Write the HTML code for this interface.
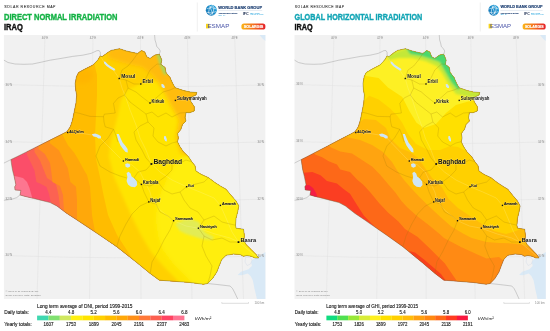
<!DOCTYPE html>
<html lang="en"><head><meta charset="utf-8"><title>Solar resource maps of Iraq</title>
<style>
html,body{margin:0;padding:0;background:#fff;}
body{width:550px;height:331px;overflow:hidden;}
svg{display:block;font-family:"Liberation Sans",sans-serif;}
</style></head><body>
<svg width="550" height="331" viewBox="0 0 550 331">
<rect width="550" height="331" fill="#fff"/>
<defs>
<clipPath id="iraq"><polygon points="100.3,55.9 102.0,56.7 107.8,52.5 111.2,50.4 119.5,48.7 126.2,50.9 132.9,52.5 137.7,53.4 141.5,50.6 144.8,52.0 146.7,56.7 150.0,58.4 155.0,55.0 159.3,54.2 161.8,60.0 160.9,64.3 165.1,67.6 166.0,72.6 170.1,77.6 172.7,83.5 175.2,87.7 183.5,90.5 190.1,92.0 196.8,92.5 196.0,95.0 190.1,97.5 191.0,101.7 194.3,106.7 194.3,110.9 190.1,112.6 186.0,112.6 185.1,117.6 186.0,121.0 182.6,124.3 180.9,129.3 177.6,133.5 178.4,138.0 177.5,141.7 180.0,146.7 183.4,151.7 188.4,156.7 191.8,161.8 195.1,165.9 195.9,171.0 201.0,174.3 208.5,177.7 215.2,182.7 221.9,186.9 226.0,189.2 230.1,194.2 236.0,200.9 238.8,205.9 237.7,211.8 236.0,218.5 235.5,225.2 236.0,228.2 243.5,229.2 244.4,235.4 243.9,240.4 246.0,244.6 251.1,249.6 256.1,254.6 258.6,258.0 255.2,258.0 251.1,256.3 246.9,255.5 243.5,256.3 240.2,254.6 233.5,254.1 226.0,255.3 221.8,259.4 219.3,265.5 216.8,272.0 212.6,278.4 207.6,283.5 203.4,284.3 190.0,282.5 159.4,280.2 150.2,273.5 136.8,262.6 116.7,246.7 100.0,235.3 77.0,220.0 66.9,213.5 56.9,206.0 50.2,202.6 43.5,200.9 33.5,198.4 25.0,196.4 20.0,195.0 20.9,190.4 15.0,190.0 14.7,186.7 15.9,185.0 14.2,176.7 12.5,170.0 11.7,165.2 10.9,159.6 16.7,156.8 33.5,148.4 50.2,140.1 66.9,131.7 70.3,126.7 72.5,120.0 74.2,111.7 75.9,103.4 76.7,95.0 75.7,90.2 75.2,83.5 76.4,76.8 78.5,72.6 84.4,69.3 92.8,65.1 97.8,60.0"/></clipPath>
<clipPath id="frame"><rect x="3.7" y="35.0" width="261.90000000000003" height="264.0"/></clipPath>
<filter id="bl1" x="-20%" y="-20%" width="140%" height="140%"><feGaussianBlur stdDeviation="1"/></filter>
<filter id="bl2" x="-20%" y="-20%" width="140%" height="140%"><feGaussianBlur stdDeviation="2.2"/></filter>
<filter id="bl15" x="-10%" y="-10%" width="120%" height="120%"><feGaussianBlur stdDeviation="1.6"/></filter>
<filter id="bl05" x="-5%" y="-5%" width="110%" height="110%"><feGaussianBlur stdDeviation="0.4"/></filter>
<linearGradient id="gl" x1="0" y1="1" x2="1" y2="0"><stop offset="0" stop-color="#0b6cae"/><stop offset="1" stop-color="#2cabe3"/></linearGradient>
<linearGradient id="sg" x1="0" y1="0" x2="1" y2="0"><stop offset="0" stop-color="#fbb515"/><stop offset="0.5" stop-color="#f4701f"/><stop offset="1" stop-color="#e4202a"/></linearGradient>
</defs>
<g transform="translate(0,0)">
<text x="4.2" y="8.2" font-size="3.6" fill="#333" stroke="#333" stroke-width="0.08" textLength="51.3" lengthAdjust="spacing">SOLAR RESOURCE MAP</text>
<text x="4" y="19.6" font-size="9.4" font-weight="bold" fill="#14b245" stroke="#14b245" stroke-width="0.4" textLength="113.5" lengthAdjust="spacingAndGlyphs">DIRECT NORMAL IRRADIATION</text>
<text x="4" y="30.4" font-size="8.6" font-weight="bold" fill="#111" stroke="#111" stroke-width="0.4" textLength="18.8" lengthAdjust="spacingAndGlyphs">IRAQ</text>
<line x1="197.3" y1="2.5" x2="197.3" y2="31.5" stroke="#d8d8d8" stroke-width="0.4"/>
<circle cx="211.3" cy="10.2" r="5.5" fill="url(#gl)"/>
<g fill="none" stroke="#fff" stroke-width="0.55"><ellipse cx="211.3" cy="10.2" rx="2.3" ry="4.6" transform="rotate(18 211.3 10.2)"/><path d="M206.6,8.8 Q211.3,6.2 216,8.8 M206.4,12.2 Q211.3,14 216,11.6 M209.6,5.6 L213,14.8"/></g>
<text x="218.3" y="8.5" font-size="3.7" font-weight="bold" fill="#1d3f72" stroke="#1d3f72" stroke-width="0.15" textLength="43.8" lengthAdjust="spacingAndGlyphs">WORLD BANK GROUP</text>
<line x1="218.3" y1="10.5" x2="262.2" y2="10.5" stroke="#9fb2cc" stroke-width="0.25"/>
<text x="218.4" y="13.6" font-size="2" font-weight="bold" fill="#1d3f72" stroke="#1d3f72" stroke-width="0.1" textLength="19" lengthAdjust="spacingAndGlyphs">THE WORLD BANK</text>
<text x="218.4" y="15.5" font-size="1.5" fill="#1a9bd7" textLength="7" lengthAdjust="spacingAndGlyphs">IBRD · IDA</text>
<text x="242.8" y="15" font-size="3.6" font-weight="bold" fill="#1d2f52" textLength="6" lengthAdjust="spacingAndGlyphs">IFC</text>
<text x="250.2" y="14" font-size="1.9" font-weight="bold" fill="#2aa7df" textLength="9.5" lengthAdjust="spacingAndGlyphs">MIGA ICSID</text>
<text x="250.2" y="15.4" font-size="1.3" fill="#2aa7df" textLength="13.5" lengthAdjust="spacingAndGlyphs">WORLD BANK GROUP</text>
<rect x="206" y="23.8" width="3.5" height="4.6" fill="#f4d21f"/>

<text x="207.4" y="28.3" font-size="5.6" fill="#4a55a8" textLength="22" lengthAdjust="spacingAndGlyphs">ESMAP</text>
<rect x="241.4" y="23.4" width="24" height="6.1" rx="2.6" fill="url(#sg)"/>
<text x="243.8" y="28" font-size="3.9" font-weight="bold" fill="#fff" stroke="#fff" stroke-width="0.15" textLength="19.4" lengthAdjust="spacingAndGlyphs">SOLARGIS</text>
<g clip-path="url(#frame)">
<rect x="3.7" y="35.0" width="261.90000000000003" height="264.0" fill="#f1f1f1"/>
<polygon points="258.6,258.0 255.2,258.3 252.5,259.5 251.0,261.7 251.9,265.9 248.5,269.2 241.0,271.7 237.7,275.0 241.9,275.3 247.7,273.4 250.5,276.0 252.7,280.1 253.8,285.0 254.4,288.5 255.5,293.0 256.9,299.0 265.6,299.0 265.6,252.0 262.0,254.0 260.0,256.5" fill="#d9e9f6"/>
<polygon points="259.5,35.0 265.6,35.0 265.6,41.0 263.0,39.0" fill="#d9e9f6"/>
<polygon points="245.5,257.5 250.0,257.3 252.0,260.0 250.5,264.0 247.0,265.5 245.0,262.0" fill="#f1f1f1" stroke="#c5cfe0" stroke-width="0.3"/>
<g stroke="#dadada" stroke-width="0.35" fill="none"><line x1="45" y1="35.0" x2="37" y2="299.0"/><line x1="93" y1="35.0" x2="89.5" y2="299.0"/><line x1="140.5" y1="35.0" x2="141" y2="299.0"/><line x1="187.4" y1="35.0" x2="192" y2="299.0"/><line x1="234.6" y1="35.0" x2="243.5" y2="299.0"/><path d="M3.7,84.6 Q134.5,88.6 265.6,85.0"/><path d="M3.7,141.6 Q134.5,145.6 265.6,142.0"/><path d="M3.7,198.8 Q134.5,202.8 265.6,199.20000000000002"/><path d="M3.7,255.5 Q134.5,260.1 265.6,255.9"/></g>
<polyline points="3.7,60.0 8.0,62.5 15.0,64.0 24.0,64.3 32.6,64.0 42.0,62.0 50.0,60.2 60.0,58.6 72.7,56.4 82.7,55.2 91.0,53.4 95.0,51.6 97.0,50.6 99.2,50.6 100.3,52.5 100.3,55.9" fill="none" stroke="#9a9a9a" stroke-width="0.45"/>
<polyline points="159.3,54.2 160.3,51.0 158.8,48.5 156.8,46.7 156.0,43.0 155.0,40.0 154.6,35.0" fill="none" stroke="#9a9a9a" stroke-width="0.45"/>
<polyline points="10.9,159.6 3.7,163.2" fill="none" stroke="#9a9a9a" stroke-width="0.45"/>
<polyline points="20.0,195.0 16.7,197.6 11.7,199.3 3.7,200.3" fill="none" stroke="#9a9a9a" stroke-width="0.45"/>
<polyline points="207.6,283.5 218.0,284.6 230.1,286.0 232.5,288.5 234.3,291.8 237.7,299.0" fill="none" stroke="#9a9a9a" stroke-width="0.45"/>
<g clip-path="url(#iraq)">
<rect x="0" y="30" width="270" height="275" fill="#fb4e69"/>
<polygon points="8.0,175.0 17.0,176.5 23.0,178.0 27.0,182.0 29.5,188.0 31.6,195.5 33.0,201.0 8.0,201.0" fill="#fd7690"/>
<polygon points="27.0,140.0 27.0,155.0 31.0,162.9 34.5,170.5 36.4,181.9 41.0,184.0 46.5,187.0 49.0,194.0 51.0,203.0 52.0,215.0 52.0,400.0 300.0,400.0 300.0,-20.0 27.0,-20.0" fill="#fc6252" />
<polygon points="34.5,135.0 34.5,152.0 40.0,160.4 43.5,169.3 47.0,178.0 56.0,184.0 58.5,195.0 60.0,207.0 61.0,220.0 61.0,400.0 300.0,400.0 300.0,-20.0 34.5,-20.0" fill="#fe7a38" />
<polygon points="38.5,130.0 38.5,148.9 44.9,154.0 50.0,162.9 51.3,171.8 52.5,181.9 60.0,186.0 63.0,195.0 64.0,212.0 66.0,225.0 66.0,400.0 300.0,400.0 300.0,-20.0 38.5,-20.0" fill="#ff921a" />
<polygon points="50.0,125.0 50.0,143.2 58.9,150.2 64.0,160.4 67.8,168.0 70.4,181.9 76.0,186.7 77.0,200.0 77.0,220.0 80.0,235.0 80.0,400.0 300.0,400.0 300.0,-20.0 50.0,-20.0" fill="#ffa80a" />
<polygon points="62.0,120.0 62.0,134.0 67.8,145.0 74.2,152.7 78.0,159.0 84.0,170.0 87.0,175.0 90.0,186.7 91.0,200.0 92.0,215.0 95.0,232.0 100.0,250.0 100.0,400.0 300.0,400.0 300.0,-20.0 62.0,-20.0" fill="#ffbc00" />
<polygon points="60.0,40.0 84.0,52.0 94.0,62.0 97.0,75.0 97.0,95.0 96.0,115.0 95.0,135.0 96.0,159.0 100.0,177.3 103.5,195.0 108.0,215.0 117.0,235.0 130.0,255.0 141.0,272.0 152.0,290.0 152.0,400.0 300.0,400.0 300.0,-20.0 60.0,-20.0" fill="#ffd000" />
<polygon points="300.0,80.0 160.0,80.0 140.0,84.0 127.0,90.0 121.0,100.0 118.0,115.0 114.0,130.0 110.0,145.0 109.0,157.0 114.0,177.0 122.0,195.0 131.0,215.0 141.0,235.0 151.0,252.0 165.0,268.0 177.0,280.0 190.0,300.0 190.0,400.0 300.0,400.0 300.0,-20.0 300.0,-20.0" fill="#ffe400" filter="url(#bl15)"/>
<g filter="url(#bl2)">
<polygon points="300.0,152.0 192.0,152.0 178.0,160.0 169.0,175.0 162.0,190.0 157.0,205.0 156.0,220.0 158.0,235.0 163.0,250.0 172.0,262.0 185.0,275.0 200.0,292.0 200.0,400.0 300.0,400.0 300.0,-20.0 300.0,-20.0" fill="#fff010" opacity="0.9"/>
</g>
<g filter="url(#bl2)">
<polygon points="108.0,46.0 165.0,48.0 178.0,85.0 202.0,90.0 200.0,112.0 190.0,125.0 184.0,140.0 190.0,156.0 181.0,153.0 176.0,138.0 179.0,120.0 170.0,104.0 163.0,90.0 154.0,76.0 142.0,67.0 124.0,63.0 108.0,58.0" fill="#ffb810" opacity="0.9"/>
<polygon points="76.0,72.0 88.0,68.0 94.0,74.0 90.0,82.0 80.0,84.0 74.0,80.0" fill="#ffb000" opacity="0.6"/>
</g>
<g filter="url(#bl1)">
<polygon points="156.0,53.0 161.0,54.0 164.0,64.0 167.0,74.0 164.0,75.0 160.0,66.0" fill="#8ee070" opacity="0.7"/>
<polygon points="175.0,224.0 184.0,220.0 192.0,219.5 199.0,222.0 201.0,228.0 206.0,233.0 214.0,237.0 212.0,240.0 202.0,239.0 194.0,236.5 186.0,234.0 180.0,231.0" fill="#e2ec54"/>
</g>
<polyline points="67.7,132.5 80.0,133.0 92.0,135.0 100.0,138.0 104.0,142.0 112.0,150.0 120.0,158.0 123.4,161.0 132.0,165.0 140.0,172.0 145.0,182.0 150.0,192.0 152.0,200.0 160.0,210.0 173.6,220.7 186.0,226.0 198.4,228.2 215.0,234.0 230.0,238.0 238.5,242.0 246.0,248.0 256.0,256.0" fill="none" stroke="#fff8c0" stroke-opacity="0.45" stroke-width="0.45"/>
<polyline points="100.3,55.9 104.0,62.0 112.0,68.0 119.2,78.5 122.0,88.0 126.0,98.0 130.0,110.0 136.0,125.0 140.0,138.0 146.0,150.0 151.4,164.0 160.0,172.0 172.0,180.0 186.6,186.7 200.0,192.0 214.0,198.0 220.4,205.4 226.0,218.0 232.0,232.0 238.5,242.0" fill="none" stroke="#fff8c0" stroke-opacity="0.45" stroke-width="0.45"/>
<polygon points="103.8,61.5 105.4,61.8 108.0,64.5 111.5,66.8 114.8,68.8 115.4,70.3 113.5,70.4 110.0,68.5 106.5,66.0 104.2,63.6" fill="#cfe6f6"/>
<polygon points="91.8,134.2 95.0,133.5 98.0,134.5 100.8,136.0 101.0,138.2 98.5,138.6 96.5,137.0 93.5,136.6" fill="#cfe6f6"/>
<polygon points="116.6,134.0 118.8,134.0 120.5,138.0 122.6,142.4 125.5,146.0 127.6,149.0 127.8,152.4 125.6,152.0 123.0,149.0 120.5,145.5 118.3,140.5" fill="#cfe6f6"/>
<polygon points="125.2,164.0 127.5,163.2 130.0,164.4 130.2,166.6 127.8,167.8 125.6,166.8" fill="#cfe6f6"/>
<polygon points="126.6,173.0 128.6,171.8 130.6,173.5 131.6,176.5 134.5,178.5 136.8,181.5 137.2,185.0 135.0,187.2 131.0,186.8 128.0,184.6 126.6,181.0 127.4,177.0" fill="#cfe6f6"/>
<polygon points="161.2,84.2 163.0,84.0 164.6,86.0 164.8,88.0 163.0,88.0 161.6,86.2" fill="#cfe6f6"/>
<polygon points="164.0,136.2 165.6,136.0 166.8,139.0 166.8,141.6 165.2,141.0 164.0,138.6" fill="#cfe6f6"/>
<polyline points="72.5,111.7 80.0,113.5 90.0,116.4 103.5,116.7 104.3,114.2 115.2,113.0 113.5,103.4 118.0,98.0 124.4,95.0 128.0,88.0 126.0,80.0 119.2,78.5" fill="none" stroke="#9a7a08" stroke-opacity="0.6" stroke-width="0.4"/>
<polyline points="103.5,116.7 104.0,122.0 105.2,126.8 113.5,129.3 115.2,133.5 118.0,142.0" fill="none" stroke="#9a7a08" stroke-opacity="0.6" stroke-width="0.4"/>
<polyline points="119.2,78.5 122.0,70.0 128.0,66.0 133.0,60.0 137.7,53.4" fill="none" stroke="#9a7a08" stroke-opacity="0.6" stroke-width="0.4"/>
<polyline points="126.0,80.0 134.0,84.0 140.8,84.0 146.0,78.0 150.0,70.0 157.0,64.0 160.9,64.3" fill="none" stroke="#9a7a08" stroke-opacity="0.6" stroke-width="0.4"/>
<polyline points="128.0,88.0 136.0,92.0 142.0,97.0 150.0,103.0 156.0,98.0 163.0,92.0 170.0,90.0 175.2,87.7" fill="none" stroke="#9a7a08" stroke-opacity="0.6" stroke-width="0.4"/>
<polyline points="124.4,95.0 130.0,102.0 138.0,108.0 146.0,114.0 152.0,112.0 158.0,117.0 166.0,113.0 172.0,117.0 180.0,113.0 186.0,112.6" fill="none" stroke="#9a7a08" stroke-opacity="0.6" stroke-width="0.4"/>
<polyline points="146.0,114.0 148.0,122.0 154.0,128.0 153.0,136.0 158.0,142.0 166.0,146.0 172.0,143.0 177.5,141.7" fill="none" stroke="#9a7a08" stroke-opacity="0.6" stroke-width="0.4"/>
<polyline points="148.0,122.0 140.0,126.0 134.0,132.0 136.0,140.0 142.0,150.0 146.0,158.0 151.4,164.0" fill="none" stroke="#9a7a08" stroke-opacity="0.6" stroke-width="0.4"/>
<polyline points="151.4,164.0 158.0,160.0 166.0,164.0 172.0,160.0 178.0,164.0 186.0,160.0 191.8,161.8" fill="none" stroke="#9a7a08" stroke-opacity="0.6" stroke-width="0.4"/>
<polyline points="151.4,164.0 146.0,170.0 138.0,172.0 134.0,178.0 141.4,184.4" fill="none" stroke="#9a7a08" stroke-opacity="0.6" stroke-width="0.4"/>
<polyline points="141.4,184.4 150.0,186.0 158.0,182.0 166.0,176.0 172.0,170.0 172.0,160.0" fill="none" stroke="#9a7a08" stroke-opacity="0.6" stroke-width="0.4"/>
<polyline points="141.4,184.4 144.0,192.0 148.8,201.9 140.0,206.0 132.0,214.0 126.0,224.0 120.0,236.0 116.7,246.7" fill="none" stroke="#9a7a08" stroke-opacity="0.6" stroke-width="0.4"/>
<polyline points="148.8,201.9 156.0,204.0 160.0,212.0 168.0,216.0 173.6,220.7 170.0,230.0 164.0,240.0 158.0,252.0 152.0,262.0 150.2,273.5" fill="none" stroke="#9a7a08" stroke-opacity="0.6" stroke-width="0.4"/>
<polyline points="158.0,182.0 164.0,190.0 172.0,194.0 180.0,192.0 186.6,186.7 196.0,184.0 204.0,182.0 208.5,177.7" fill="none" stroke="#9a7a08" stroke-opacity="0.6" stroke-width="0.4"/>
<polyline points="180.0,192.0 184.0,200.0 190.0,208.0 198.0,212.0 204.0,220.0 198.4,228.2" fill="none" stroke="#9a7a08" stroke-opacity="0.6" stroke-width="0.4"/>
<polyline points="204.0,220.0 214.0,216.0 222.0,222.0 230.0,224.0 235.5,225.2" fill="none" stroke="#9a7a08" stroke-opacity="0.6" stroke-width="0.4"/>
<polyline points="198.4,228.2 204.0,236.0 212.0,240.0 222.0,238.0 230.0,242.0 238.5,242.1" fill="none" stroke="#9a7a08" stroke-opacity="0.6" stroke-width="0.4"/>
<polyline points="204.0,236.0 202.0,246.0 206.0,256.0 212.0,266.0 210.0,276.0 207.6,283.5" fill="none" stroke="#9a7a08" stroke-opacity="0.6" stroke-width="0.4"/>
<polyline points="113.5,129.3 108.0,138.0 100.0,146.0 96.0,156.0 100.0,166.0 110.0,172.0 120.0,176.0 126.8,178.0" fill="none" stroke="#9a7a08" stroke-opacity="0.6" stroke-width="0.4"/>
</g>
<polygon points="100.3,55.9 102.0,56.7 107.8,52.5 111.2,50.4 119.5,48.7 126.2,50.9 132.9,52.5 137.7,53.4 141.5,50.6 144.8,52.0 146.7,56.7 150.0,58.4 155.0,55.0 159.3,54.2 161.8,60.0 160.9,64.3 165.1,67.6 166.0,72.6 170.1,77.6 172.7,83.5 175.2,87.7 183.5,90.5 190.1,92.0 196.8,92.5 196.0,95.0 190.1,97.5 191.0,101.7 194.3,106.7 194.3,110.9 190.1,112.6 186.0,112.6 185.1,117.6 186.0,121.0 182.6,124.3 180.9,129.3 177.6,133.5 178.4,138.0 177.5,141.7 180.0,146.7 183.4,151.7 188.4,156.7 191.8,161.8 195.1,165.9 195.9,171.0 201.0,174.3 208.5,177.7 215.2,182.7 221.9,186.9 226.0,189.2 230.1,194.2 236.0,200.9 238.8,205.9 237.7,211.8 236.0,218.5 235.5,225.2 236.0,228.2 243.5,229.2 244.4,235.4 243.9,240.4 246.0,244.6 251.1,249.6 256.1,254.6 258.6,258.0 255.2,258.0 251.1,256.3 246.9,255.5 243.5,256.3 240.2,254.6 233.5,254.1 226.0,255.3 221.8,259.4 219.3,265.5 216.8,272.0 212.6,278.4 207.6,283.5 203.4,284.3 190.0,282.5 159.4,280.2 150.2,273.5 136.8,262.6 116.7,246.7 100.0,235.3 77.0,220.0 66.9,213.5 56.9,206.0 50.2,202.6 43.5,200.9 33.5,198.4 25.0,196.4 20.0,195.0 20.9,190.4 15.0,190.0 14.7,186.7 15.9,185.0 14.2,176.7 12.5,170.0 11.7,165.2 10.9,159.6 16.7,156.8 33.5,148.4 50.2,140.1 66.9,131.7 70.3,126.7 72.5,120.0 74.2,111.7 75.9,103.4 76.7,95.0 75.7,90.2 75.2,83.5 76.4,76.8 78.5,72.6 84.4,69.3 92.8,65.1 97.8,60.0" fill="none" stroke="#6f6a40" stroke-width="0.45" stroke-linejoin="round"/>
<rect x="118.5" y="77.8" width="1.4" height="1.4" fill="#111"/>
<text x="121.2" y="77.8" font-size="4.9" font-weight="bold" textLength="14.2" lengthAdjust="spacingAndGlyphs" fill="none" stroke="#fff" stroke-opacity="0.4" stroke-width="0.7">Mosul</text>
<text x="121.2" y="77.8" font-size="4.9" font-weight="bold" textLength="14.2" lengthAdjust="spacingAndGlyphs" fill="#111" stroke="#111" stroke-width="0">Mosul</text>
<rect x="140.1" y="83.3" width="1.4" height="1.4" fill="#111"/>
<text x="142.4" y="83.3" font-size="4.9" font-weight="bold" textLength="10.6" lengthAdjust="spacingAndGlyphs" fill="none" stroke="#fff" stroke-opacity="0.4" stroke-width="0.7">Erbil</text>
<text x="142.4" y="83.3" font-size="4.9" font-weight="bold" textLength="10.6" lengthAdjust="spacingAndGlyphs" fill="#111" stroke="#111" stroke-width="0">Erbil</text>
<rect x="149.3" y="102.3" width="1.4" height="1.4" fill="#111"/>
<text x="151.6" y="103.1" font-size="4.9" font-weight="bold" textLength="12.8" lengthAdjust="spacingAndGlyphs" fill="none" stroke="#fff" stroke-opacity="0.4" stroke-width="0.7">Kirkuk</text>
<text x="151.6" y="103.1" font-size="4.9" font-weight="bold" textLength="12.8" lengthAdjust="spacingAndGlyphs" fill="#111" stroke="#111" stroke-width="0">Kirkuk</text>
<rect x="174.7" y="99.7" width="1.4" height="1.4" fill="#111"/>
<text x="177" y="100.1" font-size="4.9" font-weight="bold" textLength="29.8" lengthAdjust="spacingAndGlyphs" fill="none" stroke="#fff" stroke-opacity="0.4" stroke-width="0.7">Sulaymaniyah</text>
<text x="177" y="100.1" font-size="4.9" font-weight="bold" textLength="29.8" lengthAdjust="spacingAndGlyphs" fill="#111" stroke="#111" stroke-width="0">Sulaymaniyah</text>
<rect x="67.0" y="131.8" width="1.4" height="1.4" fill="#111"/>
<text x="69.2" y="133" font-size="4.3" font-weight="normal" textLength="14.4" lengthAdjust="spacingAndGlyphs" fill="none" stroke="#fff" stroke-opacity="0.4" stroke-width="0.7">Al-Qa'im</text>
<text x="69.2" y="133" font-size="4.3" font-weight="normal" textLength="14.4" lengthAdjust="spacingAndGlyphs" fill="#111" stroke="#111" stroke-width="0.16">Al-Qa'im</text>
<rect x="122.7" y="160.3" width="1.4" height="1.4" fill="#111"/>
<text x="125" y="161.2" font-size="4.3" font-weight="normal" textLength="13.8" lengthAdjust="spacingAndGlyphs" fill="none" stroke="#fff" stroke-opacity="0.4" stroke-width="0.7">Ramadi</text>
<text x="125" y="161.2" font-size="4.3" font-weight="normal" textLength="13.8" lengthAdjust="spacingAndGlyphs" fill="#111" stroke="#111" stroke-width="0.16">Ramadi</text>
<rect x="150.5" y="163.1" width="1.8" height="1.8" fill="#111"/>
<text x="153.4" y="163.6" font-size="7.0" font-weight="bold" textLength="28.6" lengthAdjust="spacingAndGlyphs" fill="none" stroke="#fff" stroke-opacity="0.4" stroke-width="0.7">Baghdad</text>
<text x="153.4" y="163.6" font-size="7.0" font-weight="bold" textLength="28.6" lengthAdjust="spacingAndGlyphs" fill="#111" stroke="#111" stroke-width="0">Baghdad</text>
<rect x="140.7" y="183.7" width="1.4" height="1.4" fill="#111"/>
<text x="142.8" y="184.3" font-size="4.9" font-weight="bold" textLength="15.6" lengthAdjust="spacingAndGlyphs" fill="none" stroke="#fff" stroke-opacity="0.4" stroke-width="0.7">Karbala</text>
<text x="142.8" y="184.3" font-size="4.9" font-weight="bold" textLength="15.6" lengthAdjust="spacingAndGlyphs" fill="#111" stroke="#111" stroke-width="0">Karbala</text>
<rect x="185.9" y="186.0" width="1.4" height="1.4" fill="#111"/>
<text x="188" y="186.8" font-size="4.3" font-weight="normal" textLength="5.8" lengthAdjust="spacingAndGlyphs" fill="none" stroke="#fff" stroke-opacity="0.4" stroke-width="0.7">Kut</text>
<text x="188" y="186.8" font-size="4.3" font-weight="normal" textLength="5.8" lengthAdjust="spacingAndGlyphs" fill="#111" stroke="#111" stroke-width="0.16">Kut</text>
<rect x="148.1" y="201.2" width="1.4" height="1.4" fill="#111"/>
<text x="150.3" y="202.2" font-size="4.9" font-weight="bold" textLength="10" lengthAdjust="spacingAndGlyphs" fill="none" stroke="#fff" stroke-opacity="0.4" stroke-width="0.7">Najaf</text>
<text x="150.3" y="202.2" font-size="4.9" font-weight="bold" textLength="10" lengthAdjust="spacingAndGlyphs" fill="#111" stroke="#111" stroke-width="0">Najaf</text>
<rect x="172.9" y="220.0" width="1.4" height="1.4" fill="#111"/>
<text x="175.1" y="220.3" font-size="4.3" font-weight="normal" textLength="18" lengthAdjust="spacingAndGlyphs" fill="none" stroke="#fff" stroke-opacity="0.4" stroke-width="0.7">Samawah</text>
<text x="175.1" y="220.3" font-size="4.3" font-weight="normal" textLength="18" lengthAdjust="spacingAndGlyphs" fill="#111" stroke="#111" stroke-width="0.16">Samawah</text>
<rect x="219.7" y="204.7" width="1.4" height="1.4" fill="#111"/>
<text x="222" y="205.2" font-size="4.3" font-weight="normal" textLength="14" lengthAdjust="spacingAndGlyphs" fill="none" stroke="#fff" stroke-opacity="0.4" stroke-width="0.7">Amarah</text>
<text x="222" y="205.2" font-size="4.3" font-weight="normal" textLength="14" lengthAdjust="spacingAndGlyphs" fill="#111" stroke="#111" stroke-width="0.16">Amarah</text>
<rect x="197.7" y="227.5" width="1.4" height="1.4" fill="#111"/>
<text x="199.9" y="228" font-size="4.3" font-weight="normal" textLength="16.8" lengthAdjust="spacingAndGlyphs" fill="none" stroke="#fff" stroke-opacity="0.4" stroke-width="0.7">Nasiriyah</text>
<text x="199.9" y="228" font-size="4.3" font-weight="normal" textLength="16.8" lengthAdjust="spacingAndGlyphs" fill="#111" stroke="#111" stroke-width="0.16">Nasiriyah</text>
<rect x="237.6" y="241.2" width="1.8" height="1.8" fill="#111"/>
<text x="240.4" y="241.8" font-size="5.8" font-weight="bold" textLength="15.8" lengthAdjust="spacingAndGlyphs" fill="none" stroke="#fff" stroke-opacity="0.4" stroke-width="0.7">Basra</text>
<text x="240.4" y="241.8" font-size="5.8" font-weight="bold" textLength="15.8" lengthAdjust="spacingAndGlyphs" fill="#111" stroke="#111" stroke-width="0">Basra</text>
<g font-size="2.6" fill="#8a8a8a"><text x="41.8" y="38.6" textLength="6.4" lengthAdjust="spacingAndGlyphs">40°E</text><text x="89.8" y="38.6" textLength="6.4" lengthAdjust="spacingAndGlyphs">42°E</text><text x="137.3" y="38.6" textLength="6.4" lengthAdjust="spacingAndGlyphs">44°E</text><text x="184.20000000000002" y="38.6" textLength="6.4" lengthAdjust="spacingAndGlyphs">46°E</text><text x="231.4" y="38.6" textLength="6.4" lengthAdjust="spacingAndGlyphs">48°E</text><text x="5.6" y="85.5" textLength="6.6" lengthAdjust="spacingAndGlyphs">36°N</text><text x="257.4" y="85.89999999999999" textLength="6.6" lengthAdjust="spacingAndGlyphs">36°N</text><text x="5.6" y="142.5" textLength="6.6" lengthAdjust="spacingAndGlyphs">34°N</text><text x="257.4" y="142.9" textLength="6.6" lengthAdjust="spacingAndGlyphs">34°N</text><text x="5.6" y="199.70000000000002" textLength="6.6" lengthAdjust="spacingAndGlyphs">32°N</text><text x="257.4" y="200.10000000000002" textLength="6.6" lengthAdjust="spacingAndGlyphs">32°N</text><text x="5.6" y="256.4" textLength="6.6" lengthAdjust="spacingAndGlyphs">30°N</text><text x="257.4" y="256.8" textLength="6.6" lengthAdjust="spacingAndGlyphs">30°N</text></g>
</g>
<rect x="37.10" y="315.6" width="11.42" height="4.7" fill="#40d8b0"/>
<rect x="48.42" y="315.6" width="11.42" height="4.7" fill="#80e070"/>
<rect x="59.75" y="315.6" width="11.42" height="4.7" fill="#d0e860"/>
<rect x="71.07" y="315.6" width="11.42" height="4.7" fill="#fff010"/>
<rect x="82.39" y="315.6" width="11.42" height="4.7" fill="#ffe400"/>
<rect x="93.72" y="315.6" width="11.42" height="4.7" fill="#ffd000"/>
<rect x="105.04" y="315.6" width="11.42" height="4.7" fill="#ffbc00"/>
<rect x="116.36" y="315.6" width="11.42" height="4.7" fill="#ffa808"/>
<rect x="127.68" y="315.6" width="11.42" height="4.7" fill="#ff9018"/>
<rect x="139.01" y="315.6" width="11.42" height="4.7" fill="#ff7838"/>
<rect x="150.33" y="315.6" width="11.42" height="4.7" fill="#fc6050"/>
<rect x="161.65" y="315.6" width="11.42" height="4.7" fill="#ff4462"/>
<rect x="172.98" y="315.6" width="11.42" height="4.7" fill="#ff7492"/>
<text x="37" y="308.2" font-size="4.5" fill="#1a1a1a" stroke="#1a1a1a" stroke-width="0.12" textLength="95.5" lengthAdjust="spacingAndGlyphs">Long term average of DNI, period 1999-2015</text>
<text x="4.2" y="313.8" font-size="4.5" fill="#1a1a1a" stroke="#1a1a1a" stroke-width="0.12" textLength="24.8" lengthAdjust="spacingAndGlyphs">Daily totals:</text>
<text x="4.2" y="326.3" font-size="4.5" fill="#1a1a1a" stroke="#1a1a1a" stroke-width="0.12" textLength="27.6" lengthAdjust="spacingAndGlyphs">Yearly totals:</text>
<text x="48.4" y="313.8" font-size="4.5" fill="#1a1a1a" stroke="#1a1a1a" stroke-width="0.12" text-anchor="middle">4.4</text>
<text x="48.4" y="326.3" font-size="4.5" fill="#1a1a1a" stroke="#1a1a1a" stroke-width="0.12" text-anchor="middle">1607</text>
<text x="71.1" y="313.8" font-size="4.5" fill="#1a1a1a" stroke="#1a1a1a" stroke-width="0.12" text-anchor="middle">4.8</text>
<text x="71.1" y="326.3" font-size="4.5" fill="#1a1a1a" stroke="#1a1a1a" stroke-width="0.12" text-anchor="middle">1753</text>
<text x="93.7" y="313.8" font-size="4.5" fill="#1a1a1a" stroke="#1a1a1a" stroke-width="0.12" text-anchor="middle">5.2</text>
<text x="93.7" y="326.3" font-size="4.5" fill="#1a1a1a" stroke="#1a1a1a" stroke-width="0.12" text-anchor="middle">1899</text>
<text x="116.4" y="313.8" font-size="4.5" fill="#1a1a1a" stroke="#1a1a1a" stroke-width="0.12" text-anchor="middle">5.6</text>
<text x="116.4" y="326.3" font-size="4.5" fill="#1a1a1a" stroke="#1a1a1a" stroke-width="0.12" text-anchor="middle">2045</text>
<text x="139.0" y="313.8" font-size="4.5" fill="#1a1a1a" stroke="#1a1a1a" stroke-width="0.12" text-anchor="middle">6.0</text>
<text x="139.0" y="326.3" font-size="4.5" fill="#1a1a1a" stroke="#1a1a1a" stroke-width="0.12" text-anchor="middle">2191</text>
<text x="161.7" y="313.8" font-size="4.5" fill="#1a1a1a" stroke="#1a1a1a" stroke-width="0.12" text-anchor="middle">6.4</text>
<text x="161.7" y="326.3" font-size="4.5" fill="#1a1a1a" stroke="#1a1a1a" stroke-width="0.12" text-anchor="middle">2337</text>
<text x="184.3" y="313.8" font-size="4.5" fill="#1a1a1a" stroke="#1a1a1a" stroke-width="0.12" text-anchor="middle">6.8</text>
<text x="184.3" y="326.3" font-size="4.5" fill="#1a1a1a" stroke="#1a1a1a" stroke-width="0.12" text-anchor="middle">2483</text>
<text x="194.8" y="319.9" font-size="4.4" fill="#222" textLength="16.6" lengthAdjust="spacingAndGlyphs">kWh/m²</text>
<text x="5.6" y="292.3" font-size="2.2" fill="#8a8a8a" textLength="33" lengthAdjust="spacingAndGlyphs">© 2017 THE WORLD BANK</text>
<text x="5.6" y="295.6" font-size="2.2" fill="#8a8a8a" textLength="35" lengthAdjust="spacingAndGlyphs">Solar resource data: Solargis</text>
<path d="M221.8,302.2 V303.3 H248.5 V302.2" fill="none" stroke="#aaa" stroke-width="0.4"/>
<text x="254.4" y="304" font-size="2.6" fill="#8a8a8a" textLength="10" lengthAdjust="spacingAndGlyphs">100 km</text>
</g>
<g transform="matrix(0.9605,0,0,1,290.76,0)">
<text x="4.2" y="8.2" font-size="3.6" fill="#333" stroke="#333" stroke-width="0.08" textLength="51.3" lengthAdjust="spacing">SOLAR RESOURCE MAP</text>
<text x="4" y="19.6" font-size="9.4" font-weight="bold" fill="#12a5b5" stroke="#12a5b5" stroke-width="0.4" textLength="133" lengthAdjust="spacingAndGlyphs">GLOBAL HORIZONTAL IRRADIATION</text>
<text x="4" y="30.4" font-size="8.6" font-weight="bold" fill="#111" stroke="#111" stroke-width="0.4" textLength="18.8" lengthAdjust="spacingAndGlyphs">IRAQ</text>
<line x1="197.3" y1="2.5" x2="197.3" y2="31.5" stroke="#d8d8d8" stroke-width="0.4"/>
<circle cx="211.3" cy="10.2" r="5.5" fill="url(#gl)"/>
<g fill="none" stroke="#fff" stroke-width="0.55"><ellipse cx="211.3" cy="10.2" rx="2.3" ry="4.6" transform="rotate(18 211.3 10.2)"/><path d="M206.6,8.8 Q211.3,6.2 216,8.8 M206.4,12.2 Q211.3,14 216,11.6 M209.6,5.6 L213,14.8"/></g>
<text x="218.3" y="8.5" font-size="3.7" font-weight="bold" fill="#1d3f72" stroke="#1d3f72" stroke-width="0.15" textLength="43.8" lengthAdjust="spacingAndGlyphs">WORLD BANK GROUP</text>
<line x1="218.3" y1="10.5" x2="262.2" y2="10.5" stroke="#9fb2cc" stroke-width="0.25"/>
<text x="218.4" y="13.6" font-size="2" font-weight="bold" fill="#1d3f72" stroke="#1d3f72" stroke-width="0.1" textLength="19" lengthAdjust="spacingAndGlyphs">THE WORLD BANK</text>
<text x="218.4" y="15.5" font-size="1.5" fill="#1a9bd7" textLength="7" lengthAdjust="spacingAndGlyphs">IBRD · IDA</text>
<text x="242.8" y="15" font-size="3.6" font-weight="bold" fill="#1d2f52" textLength="6" lengthAdjust="spacingAndGlyphs">IFC</text>
<text x="250.2" y="14" font-size="1.9" font-weight="bold" fill="#2aa7df" textLength="9.5" lengthAdjust="spacingAndGlyphs">MIGA ICSID</text>
<text x="250.2" y="15.4" font-size="1.3" fill="#2aa7df" textLength="13.5" lengthAdjust="spacingAndGlyphs">WORLD BANK GROUP</text>
<rect x="206" y="23.8" width="3.5" height="4.6" fill="#f4d21f"/>

<text x="207.4" y="28.3" font-size="5.6" fill="#4a55a8" textLength="22" lengthAdjust="spacingAndGlyphs">ESMAP</text>
<rect x="241.4" y="23.4" width="24" height="6.1" rx="2.6" fill="url(#sg)"/>
<text x="243.8" y="28" font-size="3.9" font-weight="bold" fill="#fff" stroke="#fff" stroke-width="0.15" textLength="19.4" lengthAdjust="spacingAndGlyphs">SOLARGIS</text>
<g clip-path="url(#frame)">
<rect x="3.7" y="35.0" width="261.90000000000003" height="264.0" fill="#f1f1f1"/>
<polygon points="258.6,258.0 255.2,258.3 252.5,259.5 251.0,261.7 251.9,265.9 248.5,269.2 241.0,271.7 237.7,275.0 241.9,275.3 247.7,273.4 250.5,276.0 252.7,280.1 253.8,285.0 254.4,288.5 255.5,293.0 256.9,299.0 265.6,299.0 265.6,252.0 262.0,254.0 260.0,256.5" fill="#d9e9f6"/>
<polygon points="259.5,35.0 265.6,35.0 265.6,41.0 263.0,39.0" fill="#d9e9f6"/>
<polygon points="245.5,257.5 250.0,257.3 252.0,260.0 250.5,264.0 247.0,265.5 245.0,262.0" fill="#f1f1f1" stroke="#c5cfe0" stroke-width="0.3"/>
<g stroke="#dadada" stroke-width="0.35" fill="none"><line x1="45" y1="35.0" x2="37" y2="299.0"/><line x1="93" y1="35.0" x2="89.5" y2="299.0"/><line x1="140.5" y1="35.0" x2="141" y2="299.0"/><line x1="187.4" y1="35.0" x2="192" y2="299.0"/><line x1="234.6" y1="35.0" x2="243.5" y2="299.0"/><path d="M3.7,84.6 Q134.5,88.6 265.6,85.0"/><path d="M3.7,141.6 Q134.5,145.6 265.6,142.0"/><path d="M3.7,198.8 Q134.5,202.8 265.6,199.20000000000002"/><path d="M3.7,255.5 Q134.5,260.1 265.6,255.9"/></g>
<polyline points="3.7,60.0 8.0,62.5 15.0,64.0 24.0,64.3 32.6,64.0 42.0,62.0 50.0,60.2 60.0,58.6 72.7,56.4 82.7,55.2 91.0,53.4 95.0,51.6 97.0,50.6 99.2,50.6 100.3,52.5 100.3,55.9" fill="none" stroke="#9a9a9a" stroke-width="0.45"/>
<polyline points="159.3,54.2 160.3,51.0 158.8,48.5 156.8,46.7 156.0,43.0 155.0,40.0 154.6,35.0" fill="none" stroke="#9a9a9a" stroke-width="0.45"/>
<polyline points="10.9,159.6 3.7,163.2" fill="none" stroke="#9a9a9a" stroke-width="0.45"/>
<polyline points="20.0,195.0 16.7,197.6 11.7,199.3 3.7,200.3" fill="none" stroke="#9a9a9a" stroke-width="0.45"/>
<polyline points="207.6,283.5 218.0,284.6 230.1,286.0 232.5,288.5 234.3,291.8 237.7,299.0" fill="none" stroke="#9a9a9a" stroke-width="0.45"/>
<g clip-path="url(#iraq)">
<rect x="0" y="30" width="270" height="275" fill="#fb3e22"/>
<polygon points="-17.2,177.0 7.5,173.5 13.2,172.7 22.5,171.9 31.0,175.2 37.7,180.9 48.1,183.4 54.9,189.0 61.7,193.8 69.0,205.0 76.0,215.4 86.7,226.0 104.4,243.7 104.4,420.0 700.0,420.0 700.0,-100.0 -17.2,-100.0" fill="#fd6818" />
<polygon points="0.6,134.3 20.0,150.0 25.9,154.7 32.7,157.2 39.5,161.3 48.1,164.5 51.5,169.5 61.7,172.0 69.0,179.5 75.2,184.5 82.5,192.0 91.9,203.0 101.2,212.5 112.1,221.5 118.9,229.0 132.2,237.0 144.8,248.5 160.5,263.6 167.9,274.0 182.4,294.4 182.4,420.0 700.0,420.0 700.0,-100.0 0.6,-100.0" fill="#ff8a14" />
<polygon points="15.0,128.9 35.6,143.0 42.1,147.4 51.5,151.5 63.8,153.5 74.2,160.0 84.6,166.5 92.9,174.5 101.2,184.0 108.9,192.5 115.2,201.0 121.5,207.5 131.4,216.0 142.9,224.5 155.0,234.0 159.5,238.0 177.2,247.0 203.7,258.6 216.8,257.0 223.1,262.0 242.6,277.6 242.6,420.0 700.0,420.0 700.0,-100.0 15.0,-100.0" fill="#ffa410" />
<polygon points="29.7,132.5 54.4,136.5 57.5,137.0 72.1,140.0 84.6,145.0 96.0,152.0 105.4,162.0 111.7,172.0 117.9,180.0 125.2,188.0 133.5,196.5 142.4,205.0 155.0,216.2 167.1,226.4 179.3,233.6 188.3,237.9 203.7,242.0 216.8,243.0 230.1,243.4 240.7,244.5 251.2,248.0 261.6,252.0 284.9,261.0 700.0,261.0 700.0,-100.0 29.7,-100.0" fill="#ffbc08" />
<polygon points="43.7,133.3 66.9,124.0 71.9,122.0 76.3,119.0 88.7,120.0 99.2,128.0 103.3,138.0 113.7,148.0 124.1,152.0 132.5,158.0 138.7,166.4 147.0,177.8 157.5,187.6 164.3,199.0 174.1,208.0 186.6,216.0 199.1,224.0 211.6,231.0 224.1,234.0 234.5,231.0 242.8,227.5 254.3,226.0 279.1,222.8 700.0,222.8 700.0,-100.0 43.7,-100.0" fill="#ffd000" />
<polygon points="49.0,119.5 70.0,106.0 73.1,104.0 81.7,95.8 91.5,99.4 103.8,108.8 111.1,116.0 116.1,122.8 122.1,134.0 130.4,144.0 142.9,150.0 155.4,150.0 165.8,146.0 174.1,147.0 182.4,151.0 192.9,153.0 217.4,157.7 700.0,157.7 700.0,-100.0 49.0,-100.0" fill="#ffe000" />
<polygon points="47.1,77.6 72.1,76.0 76.8,75.7 91.5,78.0 101.2,87.5 116.1,97.0 123.5,111.0 130.9,122.8 138.7,128.0 151.2,124.0 161.6,113.0 172.0,105.0 186.6,101.0 203.3,97.0 227.6,91.2 700.0,91.2 700.0,-100.0 47.1,-100.0" fill="#fdf024" />
<polygon points="9.6,185.5 19.0,185.0 23.2,188.0 26.3,193.0 28.4,199.0 9.6,199.0" fill="#f41c44"/>
<polygon points="123.1,251.0 129.3,252.5 138.7,259.5 149.1,268.0 156.4,274.0 161.6,281.0 153.3,281.0 132.5,262.0" fill="#f8401c"/>
<g filter="url(#bl1)">
<polygon points="100.3,55.9 107.8,52.5 119.5,48.7 132.9,52.5 141.5,50.6 146.7,56.7 155.0,55.0 159.3,54.2 161.8,60.0 165.1,67.6 170.1,77.6 175.2,87.7 190.0,92.0 198.0,92.0 198.0,98.0 186.0,97.0 172.0,94.0 164.0,84.0 158.0,74.0 152.0,66.0 140.0,61.0 126.0,58.0 112.0,58.0 102.0,60.0" fill="#c4e838"/>
<polygon points="119.5,47.0 132.9,50.5 141.5,48.6 147.7,54.7 155.0,53.0 160.3,52.2 163.8,60.0 167.1,67.6 172.1,77.6 177.2,87.7 174.0,90.0 167.0,82.0 161.0,72.0 155.0,62.0 146.0,59.0 136.0,56.0 124.0,54.0" fill="#4cd86c"/>
</g>
<polyline points="67.7,132.5 80.0,133.0 92.0,135.0 100.0,138.0 104.0,142.0 112.0,150.0 120.0,158.0 123.4,161.0 132.0,165.0 140.0,172.0 145.0,182.0 150.0,192.0 152.0,200.0 160.0,210.0 173.6,220.7 186.0,226.0 198.4,228.2 215.0,234.0 230.0,238.0 238.5,242.0 246.0,248.0 256.0,256.0" fill="none" stroke="#fff8c0" stroke-opacity="0.45" stroke-width="0.45"/>
<polyline points="100.3,55.9 104.0,62.0 112.0,68.0 119.2,78.5 122.0,88.0 126.0,98.0 130.0,110.0 136.0,125.0 140.0,138.0 146.0,150.0 151.4,164.0 160.0,172.0 172.0,180.0 186.6,186.7 200.0,192.0 214.0,198.0 220.4,205.4 226.0,218.0 232.0,232.0 238.5,242.0" fill="none" stroke="#fff8c0" stroke-opacity="0.45" stroke-width="0.45"/>
<polygon points="103.8,61.5 105.4,61.8 108.0,64.5 111.5,66.8 114.8,68.8 115.4,70.3 113.5,70.4 110.0,68.5 106.5,66.0 104.2,63.6" fill="#cfe6f6"/>
<polygon points="91.8,134.2 95.0,133.5 98.0,134.5 100.8,136.0 101.0,138.2 98.5,138.6 96.5,137.0 93.5,136.6" fill="#cfe6f6"/>
<polygon points="116.6,134.0 118.8,134.0 120.5,138.0 122.6,142.4 125.5,146.0 127.6,149.0 127.8,152.4 125.6,152.0 123.0,149.0 120.5,145.5 118.3,140.5" fill="#cfe6f6"/>
<polygon points="125.2,164.0 127.5,163.2 130.0,164.4 130.2,166.6 127.8,167.8 125.6,166.8" fill="#cfe6f6"/>
<polygon points="126.6,173.0 128.6,171.8 130.6,173.5 131.6,176.5 134.5,178.5 136.8,181.5 137.2,185.0 135.0,187.2 131.0,186.8 128.0,184.6 126.6,181.0 127.4,177.0" fill="#cfe6f6"/>
<polygon points="161.2,84.2 163.0,84.0 164.6,86.0 164.8,88.0 163.0,88.0 161.6,86.2" fill="#cfe6f6"/>
<polygon points="164.0,136.2 165.6,136.0 166.8,139.0 166.8,141.6 165.2,141.0 164.0,138.6" fill="#cfe6f6"/>
<polyline points="72.5,111.7 80.0,113.5 90.0,116.4 103.5,116.7 104.3,114.2 115.2,113.0 113.5,103.4 118.0,98.0 124.4,95.0 128.0,88.0 126.0,80.0 119.2,78.5" fill="none" stroke="#9a7a08" stroke-opacity="0.6" stroke-width="0.4"/>
<polyline points="103.5,116.7 104.0,122.0 105.2,126.8 113.5,129.3 115.2,133.5 118.0,142.0" fill="none" stroke="#9a7a08" stroke-opacity="0.6" stroke-width="0.4"/>
<polyline points="119.2,78.5 122.0,70.0 128.0,66.0 133.0,60.0 137.7,53.4" fill="none" stroke="#9a7a08" stroke-opacity="0.6" stroke-width="0.4"/>
<polyline points="126.0,80.0 134.0,84.0 140.8,84.0 146.0,78.0 150.0,70.0 157.0,64.0 160.9,64.3" fill="none" stroke="#9a7a08" stroke-opacity="0.6" stroke-width="0.4"/>
<polyline points="128.0,88.0 136.0,92.0 142.0,97.0 150.0,103.0 156.0,98.0 163.0,92.0 170.0,90.0 175.2,87.7" fill="none" stroke="#9a7a08" stroke-opacity="0.6" stroke-width="0.4"/>
<polyline points="124.4,95.0 130.0,102.0 138.0,108.0 146.0,114.0 152.0,112.0 158.0,117.0 166.0,113.0 172.0,117.0 180.0,113.0 186.0,112.6" fill="none" stroke="#9a7a08" stroke-opacity="0.6" stroke-width="0.4"/>
<polyline points="146.0,114.0 148.0,122.0 154.0,128.0 153.0,136.0 158.0,142.0 166.0,146.0 172.0,143.0 177.5,141.7" fill="none" stroke="#9a7a08" stroke-opacity="0.6" stroke-width="0.4"/>
<polyline points="148.0,122.0 140.0,126.0 134.0,132.0 136.0,140.0 142.0,150.0 146.0,158.0 151.4,164.0" fill="none" stroke="#9a7a08" stroke-opacity="0.6" stroke-width="0.4"/>
<polyline points="151.4,164.0 158.0,160.0 166.0,164.0 172.0,160.0 178.0,164.0 186.0,160.0 191.8,161.8" fill="none" stroke="#9a7a08" stroke-opacity="0.6" stroke-width="0.4"/>
<polyline points="151.4,164.0 146.0,170.0 138.0,172.0 134.0,178.0 141.4,184.4" fill="none" stroke="#9a7a08" stroke-opacity="0.6" stroke-width="0.4"/>
<polyline points="141.4,184.4 150.0,186.0 158.0,182.0 166.0,176.0 172.0,170.0 172.0,160.0" fill="none" stroke="#9a7a08" stroke-opacity="0.6" stroke-width="0.4"/>
<polyline points="141.4,184.4 144.0,192.0 148.8,201.9 140.0,206.0 132.0,214.0 126.0,224.0 120.0,236.0 116.7,246.7" fill="none" stroke="#9a7a08" stroke-opacity="0.6" stroke-width="0.4"/>
<polyline points="148.8,201.9 156.0,204.0 160.0,212.0 168.0,216.0 173.6,220.7 170.0,230.0 164.0,240.0 158.0,252.0 152.0,262.0 150.2,273.5" fill="none" stroke="#9a7a08" stroke-opacity="0.6" stroke-width="0.4"/>
<polyline points="158.0,182.0 164.0,190.0 172.0,194.0 180.0,192.0 186.6,186.7 196.0,184.0 204.0,182.0 208.5,177.7" fill="none" stroke="#9a7a08" stroke-opacity="0.6" stroke-width="0.4"/>
<polyline points="180.0,192.0 184.0,200.0 190.0,208.0 198.0,212.0 204.0,220.0 198.4,228.2" fill="none" stroke="#9a7a08" stroke-opacity="0.6" stroke-width="0.4"/>
<polyline points="204.0,220.0 214.0,216.0 222.0,222.0 230.0,224.0 235.5,225.2" fill="none" stroke="#9a7a08" stroke-opacity="0.6" stroke-width="0.4"/>
<polyline points="198.4,228.2 204.0,236.0 212.0,240.0 222.0,238.0 230.0,242.0 238.5,242.1" fill="none" stroke="#9a7a08" stroke-opacity="0.6" stroke-width="0.4"/>
<polyline points="204.0,236.0 202.0,246.0 206.0,256.0 212.0,266.0 210.0,276.0 207.6,283.5" fill="none" stroke="#9a7a08" stroke-opacity="0.6" stroke-width="0.4"/>
<polyline points="113.5,129.3 108.0,138.0 100.0,146.0 96.0,156.0 100.0,166.0 110.0,172.0 120.0,176.0 126.8,178.0" fill="none" stroke="#9a7a08" stroke-opacity="0.6" stroke-width="0.4"/>
</g>
<polygon points="100.3,55.9 102.0,56.7 107.8,52.5 111.2,50.4 119.5,48.7 126.2,50.9 132.9,52.5 137.7,53.4 141.5,50.6 144.8,52.0 146.7,56.7 150.0,58.4 155.0,55.0 159.3,54.2 161.8,60.0 160.9,64.3 165.1,67.6 166.0,72.6 170.1,77.6 172.7,83.5 175.2,87.7 183.5,90.5 190.1,92.0 196.8,92.5 196.0,95.0 190.1,97.5 191.0,101.7 194.3,106.7 194.3,110.9 190.1,112.6 186.0,112.6 185.1,117.6 186.0,121.0 182.6,124.3 180.9,129.3 177.6,133.5 178.4,138.0 177.5,141.7 180.0,146.7 183.4,151.7 188.4,156.7 191.8,161.8 195.1,165.9 195.9,171.0 201.0,174.3 208.5,177.7 215.2,182.7 221.9,186.9 226.0,189.2 230.1,194.2 236.0,200.9 238.8,205.9 237.7,211.8 236.0,218.5 235.5,225.2 236.0,228.2 243.5,229.2 244.4,235.4 243.9,240.4 246.0,244.6 251.1,249.6 256.1,254.6 258.6,258.0 255.2,258.0 251.1,256.3 246.9,255.5 243.5,256.3 240.2,254.6 233.5,254.1 226.0,255.3 221.8,259.4 219.3,265.5 216.8,272.0 212.6,278.4 207.6,283.5 203.4,284.3 190.0,282.5 159.4,280.2 150.2,273.5 136.8,262.6 116.7,246.7 100.0,235.3 77.0,220.0 66.9,213.5 56.9,206.0 50.2,202.6 43.5,200.9 33.5,198.4 25.0,196.4 20.0,195.0 20.9,190.4 15.0,190.0 14.7,186.7 15.9,185.0 14.2,176.7 12.5,170.0 11.7,165.2 10.9,159.6 16.7,156.8 33.5,148.4 50.2,140.1 66.9,131.7 70.3,126.7 72.5,120.0 74.2,111.7 75.9,103.4 76.7,95.0 75.7,90.2 75.2,83.5 76.4,76.8 78.5,72.6 84.4,69.3 92.8,65.1 97.8,60.0" fill="none" stroke="#6f6a40" stroke-width="0.45" stroke-linejoin="round"/>
<rect x="118.5" y="77.8" width="1.4" height="1.4" fill="#111"/>
<text x="121.2" y="77.8" font-size="4.9" font-weight="bold" textLength="14.2" lengthAdjust="spacingAndGlyphs" fill="none" stroke="#fff" stroke-opacity="0.4" stroke-width="0.7">Mosul</text>
<text x="121.2" y="77.8" font-size="4.9" font-weight="bold" textLength="14.2" lengthAdjust="spacingAndGlyphs" fill="#111" stroke="#111" stroke-width="0">Mosul</text>
<rect x="140.1" y="83.3" width="1.4" height="1.4" fill="#111"/>
<text x="142.4" y="83.3" font-size="4.9" font-weight="bold" textLength="10.6" lengthAdjust="spacingAndGlyphs" fill="none" stroke="#fff" stroke-opacity="0.4" stroke-width="0.7">Erbil</text>
<text x="142.4" y="83.3" font-size="4.9" font-weight="bold" textLength="10.6" lengthAdjust="spacingAndGlyphs" fill="#111" stroke="#111" stroke-width="0">Erbil</text>
<rect x="149.3" y="102.3" width="1.4" height="1.4" fill="#111"/>
<text x="151.6" y="103.1" font-size="4.9" font-weight="bold" textLength="12.8" lengthAdjust="spacingAndGlyphs" fill="none" stroke="#fff" stroke-opacity="0.4" stroke-width="0.7">Kirkuk</text>
<text x="151.6" y="103.1" font-size="4.9" font-weight="bold" textLength="12.8" lengthAdjust="spacingAndGlyphs" fill="#111" stroke="#111" stroke-width="0">Kirkuk</text>
<rect x="174.7" y="99.7" width="1.4" height="1.4" fill="#111"/>
<text x="177" y="100.1" font-size="4.9" font-weight="bold" textLength="29.8" lengthAdjust="spacingAndGlyphs" fill="none" stroke="#fff" stroke-opacity="0.4" stroke-width="0.7">Sulaymaniyah</text>
<text x="177" y="100.1" font-size="4.9" font-weight="bold" textLength="29.8" lengthAdjust="spacingAndGlyphs" fill="#111" stroke="#111" stroke-width="0">Sulaymaniyah</text>
<rect x="67.0" y="131.8" width="1.4" height="1.4" fill="#111"/>
<text x="69.2" y="133" font-size="4.3" font-weight="normal" textLength="14.4" lengthAdjust="spacingAndGlyphs" fill="none" stroke="#fff" stroke-opacity="0.4" stroke-width="0.7">Al-Qa'im</text>
<text x="69.2" y="133" font-size="4.3" font-weight="normal" textLength="14.4" lengthAdjust="spacingAndGlyphs" fill="#111" stroke="#111" stroke-width="0.16">Al-Qa'im</text>
<rect x="122.7" y="160.3" width="1.4" height="1.4" fill="#111"/>
<text x="125" y="161.2" font-size="4.3" font-weight="normal" textLength="13.8" lengthAdjust="spacingAndGlyphs" fill="none" stroke="#fff" stroke-opacity="0.4" stroke-width="0.7">Ramadi</text>
<text x="125" y="161.2" font-size="4.3" font-weight="normal" textLength="13.8" lengthAdjust="spacingAndGlyphs" fill="#111" stroke="#111" stroke-width="0.16">Ramadi</text>
<rect x="150.5" y="163.1" width="1.8" height="1.8" fill="#111"/>
<text x="153.4" y="163.6" font-size="7.0" font-weight="bold" textLength="28.6" lengthAdjust="spacingAndGlyphs" fill="none" stroke="#fff" stroke-opacity="0.4" stroke-width="0.7">Baghdad</text>
<text x="153.4" y="163.6" font-size="7.0" font-weight="bold" textLength="28.6" lengthAdjust="spacingAndGlyphs" fill="#111" stroke="#111" stroke-width="0">Baghdad</text>
<rect x="140.7" y="183.7" width="1.4" height="1.4" fill="#111"/>
<text x="142.8" y="184.3" font-size="4.9" font-weight="bold" textLength="15.6" lengthAdjust="spacingAndGlyphs" fill="none" stroke="#fff" stroke-opacity="0.4" stroke-width="0.7">Karbala</text>
<text x="142.8" y="184.3" font-size="4.9" font-weight="bold" textLength="15.6" lengthAdjust="spacingAndGlyphs" fill="#111" stroke="#111" stroke-width="0">Karbala</text>
<rect x="185.9" y="186.0" width="1.4" height="1.4" fill="#111"/>
<text x="188" y="186.8" font-size="4.3" font-weight="normal" textLength="5.8" lengthAdjust="spacingAndGlyphs" fill="none" stroke="#fff" stroke-opacity="0.4" stroke-width="0.7">Kut</text>
<text x="188" y="186.8" font-size="4.3" font-weight="normal" textLength="5.8" lengthAdjust="spacingAndGlyphs" fill="#111" stroke="#111" stroke-width="0.16">Kut</text>
<rect x="148.1" y="201.2" width="1.4" height="1.4" fill="#111"/>
<text x="150.3" y="202.2" font-size="4.9" font-weight="bold" textLength="10" lengthAdjust="spacingAndGlyphs" fill="none" stroke="#fff" stroke-opacity="0.4" stroke-width="0.7">Najaf</text>
<text x="150.3" y="202.2" font-size="4.9" font-weight="bold" textLength="10" lengthAdjust="spacingAndGlyphs" fill="#111" stroke="#111" stroke-width="0">Najaf</text>
<rect x="172.9" y="220.0" width="1.4" height="1.4" fill="#111"/>
<text x="175.1" y="220.3" font-size="4.3" font-weight="normal" textLength="18" lengthAdjust="spacingAndGlyphs" fill="none" stroke="#fff" stroke-opacity="0.4" stroke-width="0.7">Samawah</text>
<text x="175.1" y="220.3" font-size="4.3" font-weight="normal" textLength="18" lengthAdjust="spacingAndGlyphs" fill="#111" stroke="#111" stroke-width="0.16">Samawah</text>
<rect x="219.7" y="204.7" width="1.4" height="1.4" fill="#111"/>
<text x="222" y="205.2" font-size="4.3" font-weight="normal" textLength="14" lengthAdjust="spacingAndGlyphs" fill="none" stroke="#fff" stroke-opacity="0.4" stroke-width="0.7">Amarah</text>
<text x="222" y="205.2" font-size="4.3" font-weight="normal" textLength="14" lengthAdjust="spacingAndGlyphs" fill="#111" stroke="#111" stroke-width="0.16">Amarah</text>
<rect x="197.7" y="227.5" width="1.4" height="1.4" fill="#111"/>
<text x="199.9" y="228" font-size="4.3" font-weight="normal" textLength="16.8" lengthAdjust="spacingAndGlyphs" fill="none" stroke="#fff" stroke-opacity="0.4" stroke-width="0.7">Nasiriyah</text>
<text x="199.9" y="228" font-size="4.3" font-weight="normal" textLength="16.8" lengthAdjust="spacingAndGlyphs" fill="#111" stroke="#111" stroke-width="0.16">Nasiriyah</text>
<rect x="237.6" y="241.2" width="1.8" height="1.8" fill="#111"/>
<text x="240.4" y="241.8" font-size="5.8" font-weight="bold" textLength="15.8" lengthAdjust="spacingAndGlyphs" fill="none" stroke="#fff" stroke-opacity="0.4" stroke-width="0.7">Basra</text>
<text x="240.4" y="241.8" font-size="5.8" font-weight="bold" textLength="15.8" lengthAdjust="spacingAndGlyphs" fill="#111" stroke="#111" stroke-width="0">Basra</text>
<g font-size="2.6" fill="#8a8a8a"><text x="41.8" y="38.6" textLength="6.4" lengthAdjust="spacingAndGlyphs">40°E</text><text x="89.8" y="38.6" textLength="6.4" lengthAdjust="spacingAndGlyphs">42°E</text><text x="137.3" y="38.6" textLength="6.4" lengthAdjust="spacingAndGlyphs">44°E</text><text x="184.20000000000002" y="38.6" textLength="6.4" lengthAdjust="spacingAndGlyphs">46°E</text><text x="231.4" y="38.6" textLength="6.4" lengthAdjust="spacingAndGlyphs">48°E</text><text x="5.6" y="85.5" textLength="6.6" lengthAdjust="spacingAndGlyphs">36°N</text><text x="257.4" y="85.89999999999999" textLength="6.6" lengthAdjust="spacingAndGlyphs">36°N</text><text x="5.6" y="142.5" textLength="6.6" lengthAdjust="spacingAndGlyphs">34°N</text><text x="257.4" y="142.9" textLength="6.6" lengthAdjust="spacingAndGlyphs">34°N</text><text x="5.6" y="199.70000000000002" textLength="6.6" lengthAdjust="spacingAndGlyphs">32°N</text><text x="257.4" y="200.10000000000002" textLength="6.6" lengthAdjust="spacingAndGlyphs">32°N</text><text x="5.6" y="256.4" textLength="6.6" lengthAdjust="spacingAndGlyphs">30°N</text><text x="257.4" y="256.8" textLength="6.6" lengthAdjust="spacingAndGlyphs">30°N</text></g>
</g>
<rect x="37.10" y="315.6" width="11.42" height="4.7" fill="#10dc80"/>
<rect x="48.42" y="315.6" width="11.42" height="4.7" fill="#50e050"/>
<rect x="59.75" y="315.6" width="11.42" height="4.7" fill="#98e838"/>
<rect x="71.07" y="315.6" width="11.42" height="4.7" fill="#d8ec38"/>
<rect x="82.39" y="315.6" width="11.42" height="4.7" fill="#fff020"/>
<rect x="93.72" y="315.6" width="11.42" height="4.7" fill="#ffe000"/>
<rect x="105.04" y="315.6" width="11.42" height="4.7" fill="#ffd000"/>
<rect x="116.36" y="315.6" width="11.42" height="4.7" fill="#ffbc08"/>
<rect x="127.68" y="315.6" width="11.42" height="4.7" fill="#ffa010"/>
<rect x="139.01" y="315.6" width="11.42" height="4.7" fill="#ff8810"/>
<rect x="150.33" y="315.6" width="11.42" height="4.7" fill="#ff6818"/>
<rect x="161.65" y="315.6" width="11.42" height="4.7" fill="#ff3c20"/>
<rect x="172.98" y="315.6" width="11.42" height="4.7" fill="#f81840"/>
<text x="37" y="308.2" font-size="4.5" fill="#1a1a1a" stroke="#1a1a1a" stroke-width="0.12" textLength="95.5" lengthAdjust="spacingAndGlyphs">Long term average of GHI, period 1999-2015</text>
<text x="4.2" y="313.8" font-size="4.5" fill="#1a1a1a" stroke="#1a1a1a" stroke-width="0.12" textLength="24.8" lengthAdjust="spacingAndGlyphs">Daily totals:</text>
<text x="4.2" y="326.3" font-size="4.5" fill="#1a1a1a" stroke="#1a1a1a" stroke-width="0.12" textLength="27.6" lengthAdjust="spacingAndGlyphs">Yearly totals:</text>
<text x="48.4" y="313.8" font-size="4.5" fill="#1a1a1a" stroke="#1a1a1a" stroke-width="0.12" text-anchor="middle">4.8</text>
<text x="48.4" y="326.3" font-size="4.5" fill="#1a1a1a" stroke="#1a1a1a" stroke-width="0.12" text-anchor="middle">1753</text>
<text x="71.1" y="313.8" font-size="4.5" fill="#1a1a1a" stroke="#1a1a1a" stroke-width="0.12" text-anchor="middle">5.0</text>
<text x="71.1" y="326.3" font-size="4.5" fill="#1a1a1a" stroke="#1a1a1a" stroke-width="0.12" text-anchor="middle">1826</text>
<text x="93.7" y="313.8" font-size="4.5" fill="#1a1a1a" stroke="#1a1a1a" stroke-width="0.12" text-anchor="middle">5.2</text>
<text x="93.7" y="326.3" font-size="4.5" fill="#1a1a1a" stroke="#1a1a1a" stroke-width="0.12" text-anchor="middle">1899</text>
<text x="116.4" y="313.8" font-size="4.5" fill="#1a1a1a" stroke="#1a1a1a" stroke-width="0.12" text-anchor="middle">5.4</text>
<text x="116.4" y="326.3" font-size="4.5" fill="#1a1a1a" stroke="#1a1a1a" stroke-width="0.12" text-anchor="middle">1972</text>
<text x="139.0" y="313.8" font-size="4.5" fill="#1a1a1a" stroke="#1a1a1a" stroke-width="0.12" text-anchor="middle">5.6</text>
<text x="139.0" y="326.3" font-size="4.5" fill="#1a1a1a" stroke="#1a1a1a" stroke-width="0.12" text-anchor="middle">2045</text>
<text x="161.7" y="313.8" font-size="4.5" fill="#1a1a1a" stroke="#1a1a1a" stroke-width="0.12" text-anchor="middle">5.8</text>
<text x="161.7" y="326.3" font-size="4.5" fill="#1a1a1a" stroke="#1a1a1a" stroke-width="0.12" text-anchor="middle">2118</text>
<text x="184.3" y="313.8" font-size="4.5" fill="#1a1a1a" stroke="#1a1a1a" stroke-width="0.12" text-anchor="middle">6.0</text>
<text x="184.3" y="326.3" font-size="4.5" fill="#1a1a1a" stroke="#1a1a1a" stroke-width="0.12" text-anchor="middle">2191</text>
<text x="194.8" y="319.9" font-size="4.4" fill="#222" textLength="16.6" lengthAdjust="spacingAndGlyphs">kWh/m²</text>
<text x="5.6" y="292.3" font-size="2.2" fill="#8a8a8a" textLength="33" lengthAdjust="spacingAndGlyphs">© 2017 THE WORLD BANK</text>
<text x="5.6" y="295.6" font-size="2.2" fill="#8a8a8a" textLength="35" lengthAdjust="spacingAndGlyphs">Solar resource data: Solargis</text>
<path d="M221.8,302.2 V303.3 H248.5 V302.2" fill="none" stroke="#aaa" stroke-width="0.4"/>
<text x="254.4" y="304" font-size="2.6" fill="#8a8a8a" textLength="10" lengthAdjust="spacingAndGlyphs">100 km</text>
</g>
</svg>
</body></html>
